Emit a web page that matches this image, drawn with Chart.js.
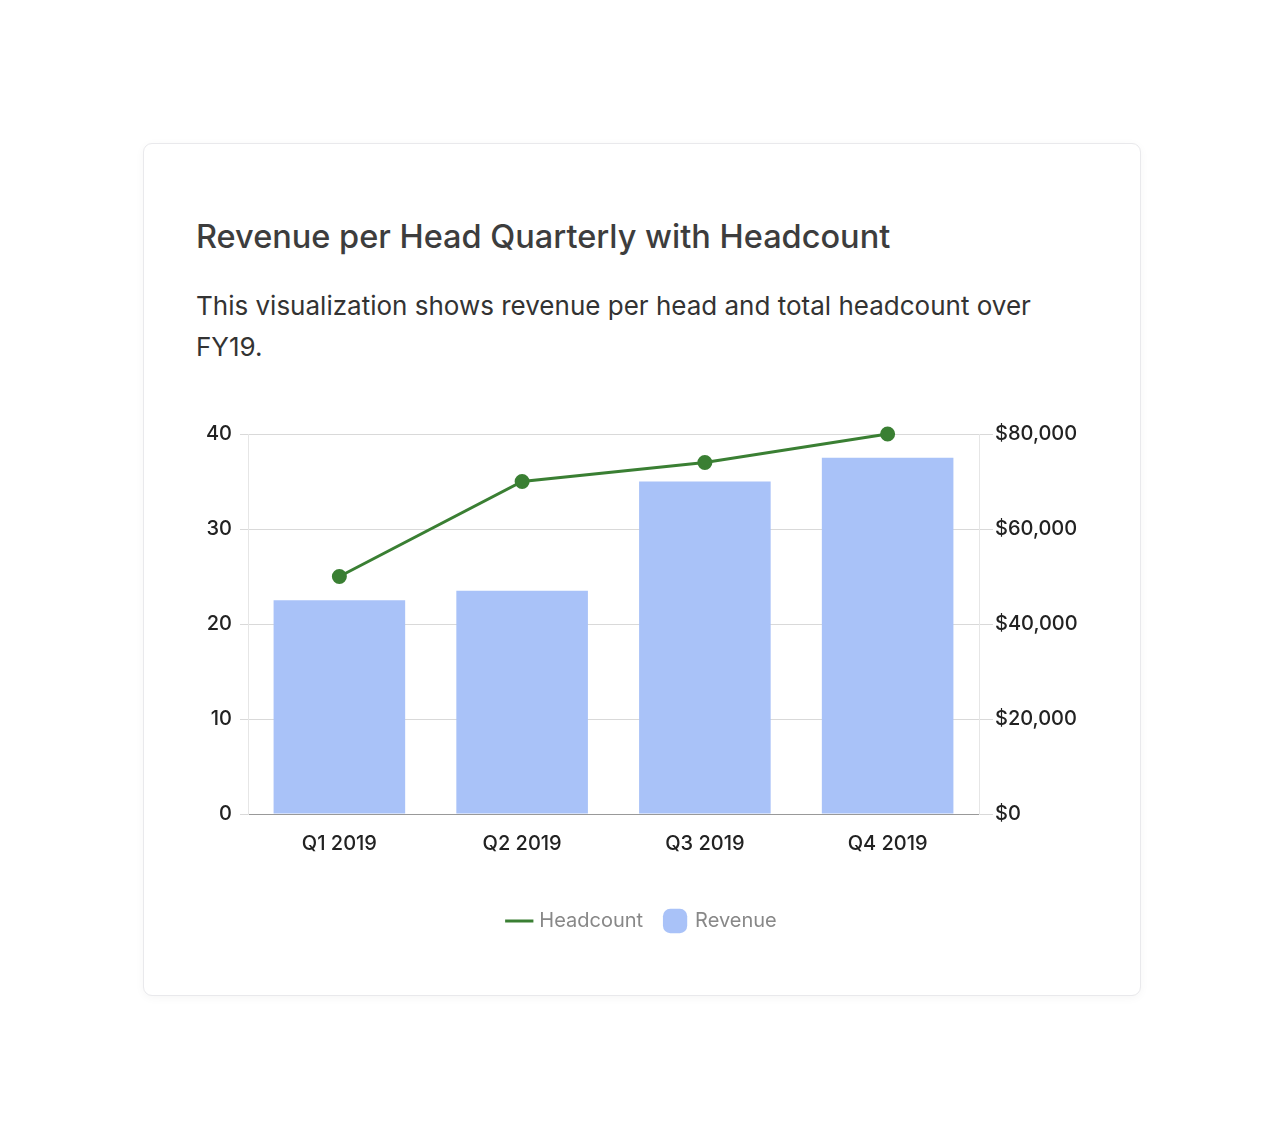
<!DOCTYPE html>
<html>
<head>
<meta charset="utf-8">
<script src="https://cdn.jsdelivr.net/npm/chart.js@4"></script>
<style>
  body { margin: 0; background: #fff; font-family: Inter, "Noto Sans", sans-serif; }
  .card {
    position: absolute; left: 143px; top: 143px; width: 996px; height: 851px;
    border: 1px solid #e9e9ec; border-radius: 9px; background: #fff;
    box-shadow: 0 2px 10px rgba(0,0,0,0.04);
  }
  h1 { position: absolute; left: 52px; top: 73px; margin: 0; font-size: 32.5px; line-height: 40px; font-weight: 500; color: #3d3d3d; }
  p { position: absolute; left: 52px; top: 141px; width: 860px; margin: 0; font-size: 26px; line-height: 41px; font-weight: 400; color: #333; }
  .chart-box { position: absolute; left: 52px; top: 270px; width: 894px; height: 527px; }
</style>
</head>
<body>
<div class="card">
  <h1>Revenue per Head Quarterly with Headcount</h1>
  <p>This visualization shows revenue per head and total headcount over FY19.</p>
  <div class="chart-box"><canvas id="chart"></canvas></div>
</div>
<script>
const quarters = ['Q1 2019', 'Q2 2019', 'Q3 2019', 'Q4 2019'];
const headcount = [25, 35, 37, 40];
const revenue = [45000, 47000, 70000, 75000];

const tickFont = { family: 'Inter', size: 20, weight: 500 };

const ctx = document.getElementById('chart').getContext('2d');
new Chart(ctx, {
  type: 'bar',
  data: {
    labels: quarters,
    datasets: [{
      type: 'line',
      label: 'Headcount',
      data: headcount,
      yAxisID: 'y',
      borderColor: '#3a7f33',
      backgroundColor: '#3a7f33',
      borderWidth: 3,
      pointRadius: 6,
      clip: false, // keep the top point whole
      order: 0
    }, {
      type: 'bar',
      label: 'Revenue',
      data: revenue,
      yAxisID: 'y1',
      backgroundColor: '#a9c2f8',
      order: 1
    }]
  },
  options: {
    responsive: true,
    maintainAspectRatio: false,
    animation: false,
    layout: { padding: { top: 10 } },
    scales: {
      x: {
        grid: { display: false },
        border: { color: '#999', width: 1 },
        ticks: { color: '#222', font: tickFont, padding: 10 },
        afterFit: scale => { scale.height += 23; }
      },
      y: {
        position: 'left',
        min: 0, max: 40,
        ticks: { stepSize: 10, color: '#222', font: tickFont, padding: 8 },
        grid: { color: '#d9d9d9', tickLength: 8 },
        border: { color: '#e6e6e6' },
        afterFit: scale => { scale.width = 52; }
      },
      y1: {
        position: 'right',
        min: 0, max: 80000,
        ticks: {
          stepSize: 20000, color: '#222', font: tickFont, padding: 2,
          callback: v => '$' + v.toLocaleString('en-US')
        },
        grid: { drawOnChartArea: false, color: '#d9d9d9', tickLength: 14 },
        border: { color: '#e6e6e6' },
        afterFit: scale => { scale.width = 111; }
      }
    },
    plugins: {
      legend: {
        position: 'bottom',
        labels: {
          usePointStyle: true,
          color: '#888',
          font: { family: 'Inter', size: 20 },
          padding: 22,
          generateLabels: chart => chart.data.datasets.map((ds, i) => ({
            text: ds.label,
            fillStyle: ds.backgroundColor,
            strokeStyle: ds.type === 'line' ? ds.borderColor : ds.backgroundColor,
            lineWidth: ds.type === 'line' ? 3 : 0,
            pointStyle: ds.type === 'line' ? 'line' : 'rectRounded',
            fontColor: '#888',
            datasetIndex: i
          }))
        }
      },
      tooltip: { enabled: false }
    }
  }
});
</script>
</body>
</html>
